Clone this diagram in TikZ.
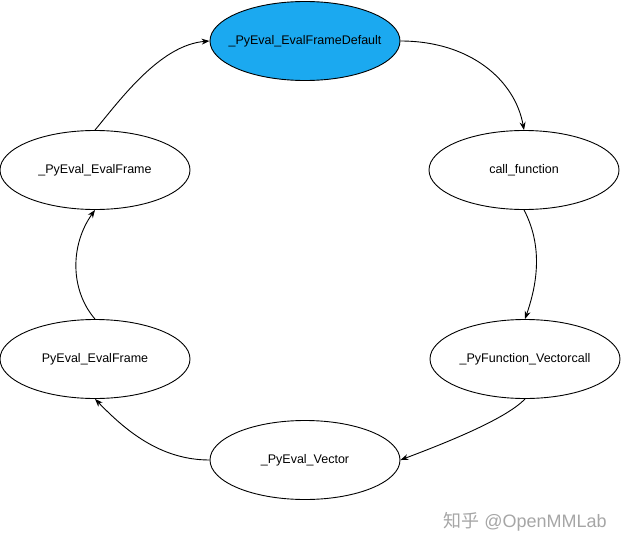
\documentclass[tikz,border=0pt]{standalone}
\usepackage{fontspec}
\setmainfont{Liberation Sans}
\newfontfamily\cjk{Noto Sans CJK SC}
\usetikzlibrary{shapes.geometric,arrows.meta}
\definecolor{topblue}{HTML}{1BA9F0}
\begin{document}
\begin{tikzpicture}[x=1pt,y=-1pt,
  el/.style={ellipse,draw,line width=0.9pt,minimum width=190pt,minimum height=79pt,inner sep=0pt,
    label={[font=\fontsize{12.5}{14}\selectfont]center:#1}},
  arr/.style={-{Stealth[length=8pt,width=6pt]},line width=0.9pt}]
\useasboundingbox (0,0) rectangle (621,551);
\node[el={\_PyEval\_EvalFrameDefault},fill=topblue] (a) at (305,41) {};
\node[el={call\_function}] (b) at (524,170) {};
\node[el={\_PyFunction\_Vectorcall}] (c) at (525,359) {};
\node[el={\_PyEval\_Vector}] (d) at (305,460) {};
\node[el={PyEval\_EvalFrame}] (e) at (95,359) {};
\node[el={\_PyEval\_EvalFrame}] (f) at (95,170) {};
\draw[arr] (a.east) .. controls (470,41) and (515,80) .. (b.north);
\draw[arr] (b.south) .. controls (545,250) and (535,290) .. (c.north);
\draw[arr] (c.south) .. controls (505,420) and (440,445) .. (d.east);
\draw[arr] (d.west) .. controls (160,460) and (125,430) .. (e.south);
\draw[arr] (e.north) .. controls (70,290) and (70,245) .. (f.south);
\draw[arr] (f.north) .. controls (120,100) and (160,45) .. (a.west);
\node[text=gray!70,font=\fontsize{18}{20}\selectfont] (w) at (525,522) {{\cjk 知乎} @OpenMMLab};
\end{tikzpicture}
\end{document}
